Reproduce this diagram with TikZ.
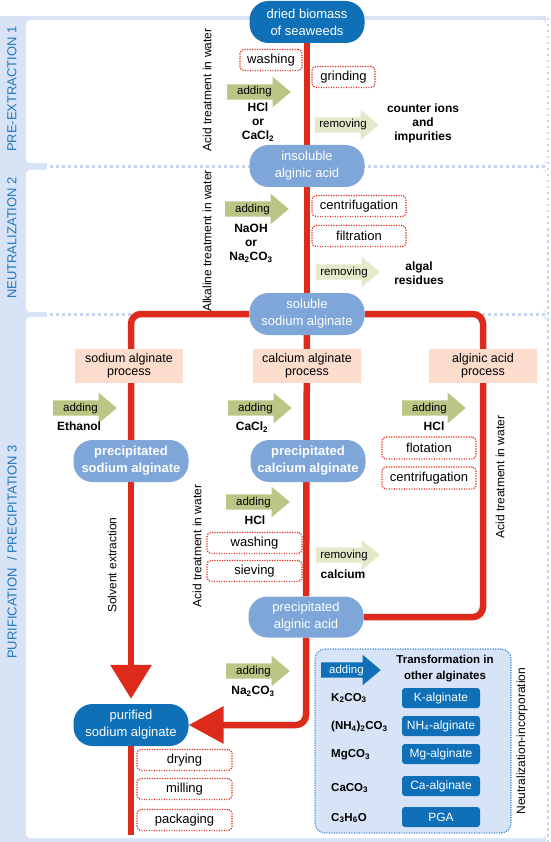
\documentclass[tikz,border=0pt]{standalone}
\usepackage{fontspec}
\setmainfont{Liberation Sans}
\usetikzlibrary{shapes.arrows,arrows.meta}
\definecolor{darkblue}{RGB}{15,112,183}
\definecolor{lightnode}{RGB}{126,166,216}
\definecolor{flowred}{RGB}{221,42,27}
\definecolor{addgreen}{RGB}{186,198,133}
\definecolor{remgreen}{RGB}{228,233,202}
\definecolor{pinkbox}{RGB}{252,220,204}
\definecolor{bandblue}{RGB}{216,227,245}
\definecolor{sepblue}{RGB}{197,212,238}
\definecolor{stageblue}{RGB}{31,120,193}
\definecolor{tboxfill}{RGB}{215,227,246}
\definecolor{tboxline}{RGB}{63,143,210}
\newcommand{\sbs}[1]{\textsubscript{#1}}
\pgfdeclarelayer{back}
\pgfdeclarelayer{flow}
\pgfsetlayers{back,flow,main}
\begin{document}
\begin{tikzpicture}[x=1pt,y=-1pt,
	dark_node/.style={rounded corners=19pt,fill=darkblue,text=white,minimum width=115pt,minimum height=42pt,align=center,font=\fontsize{13}{17}\selectfont},
	light_node/.style={dark_node,fill=lightnode},
	proc_node/.style={fill=pinkbox,minimum width=108pt,minimum height=34pt,inner sep=0pt,align=center,font=\fontsize{12.5}{13.5}\selectfont},
	op_node/.style={draw=flowred,fill=white,dash pattern=on 1.2pt off 1.3pt,line width=1.2pt,rounded corners=4pt,minimum width=94pt,minimum height=21pt,inner sep=0pt,font=\fontsize{13}{15}\selectfont},
	add_node/.style={single arrow,fill=addgreen,single arrow head extend=7.5pt,single arrow tip angle=80,text width=46pt,align=center,inner xsep=4pt,inner ysep=2.5pt,text height=8pt,text depth=2pt,anchor=tail,font=\fontsize{11.5}{13}\selectfont},
	rem_node/.style={add_node,fill=remgreen},
	chem_node/.style={align=center,inner sep=0pt,font=\bfseries\fontsize{12}{14}\selectfont},
	note_node/.style={rotate=90,inner sep=0pt,font=\fontsize{12}{14}\selectfont},
	stage_node/.style={rotate=90,inner sep=0pt,text=stageblue,font=\fontsize{13}{15}\selectfont},
	salt_node/.style={fill=darkblue,text=white,rounded corners=3pt,minimum width=78pt,minimum height=20pt,inner sep=0pt,font=\fontsize{12}{14}\selectfont},
	trans_box/.style={draw=tboxline,fill=tboxfill,rounded corners=10pt,dash pattern=on 1.2pt off 1.3pt,line width=1.2pt,minimum width=196pt,minimum height=184pt},
	flow_line/.style={draw=flowred,line width=6.5pt},
	sep_line/.style={draw=sepblue,line width=2.5pt,dash pattern=on 2.5pt off 3.5pt}]

	\useasboundingbox (0,0) rectangle (550,842);

	\begin{pgfonlayer}{back}
		\fill[bandblue] (0,16) rectangle (546,842);
		\fill[white,rounded corners=4pt] (26,20) rectangle (546,163);
		\fill[white,rounded corners=4pt] (26,170) rectangle (546,312);
		\fill[white,rounded corners=4pt] (26,317) rectangle (546,838);
		\fill[white] (47,163) rectangle (546,170);
		\fill[white] (47,312) rectangle (546,317);
		\draw[sep_line] (50,166.5) -- (546,166.5);
		\draw[sep_line] (50,314.5) -- (546,314.5);
		\draw[sep_line] (548,18) -- (548,842);
	\end{pgfonlayer}

	\node[stage_node] (s1) at (12,89) {PRE-EXTRACTION 1};
	\node[stage_node] (s2) at (12,238) {NEUTRALIZATION 2};
	\node[stage_node] (s3) at (12,552) {PURIFICATION \ / PRECIPITATION 3};

	\node[dark_node] (biomass) at (307,22) {dried biomass\\of seaweeds};
	\node[light_node] (insoluble) at (307,166) {insoluble\\alginic acid};
	\node[light_node] (soluble) at (307,314) {soluble\\sodium alginate};
	\node[light_node,font=\bfseries\fontsize{13}{17}\selectfont] (psodium) at (131,461) {precipitated\\sodium alginate};
	\node[light_node,font=\bfseries\fontsize{13}{17}\selectfont] (pcalcium) at (308,461) {precipitated\\calcium alginate};
	\node[light_node,minimum height=41pt] (palginic) at (306,617) {precipitated\\alginic acid};
	\node[dark_node] (purified) at (131,725) {purified\\sodium alginate};
	\coordinate (pend) at (131,835);

	% pre-extraction
	\node[note_node] (acid1) at (207,90) {Acid treatment in water};
	\node[op_node,minimum width=62pt] (wash1) at (271,60) {washing};
	\node[op_node,minimum width=63pt] (grind) at (343.5,77) {grinding};
	\node[add_node] (add1) at (227,92) {adding};
	\node[chem_node] (hcl1) at (258,122) {HCl\\or\\CaCl\sbs{2}};
	\node[rem_node] (rem1) at (315,125) {removing};
	\node[chem_node] (ions) at (423,123) {counter ions\\and\\impurities};

	% neutralization
	\node[note_node] (alk) at (207,241) {Alkaline treatment in water};
	\node[add_node] (add2) at (225,209) {adding};
	\node[chem_node] (naoh) at (251,243) {NaOH\\or\\Na\sbs{2}CO\sbs{3}};
	\node[op_node] (centr1) at (359,206) {centrifugation};
	\node[op_node] (filt) at (359,236) {filtration};
	\node[rem_node] (rem2) at (316,272) {removing};
	\node[chem_node] (algal) at (419,273.5) {algal\\residues};

	% purification / precipitation
	\node[proc_node] (sproc) at (129,366) {sodium alginate\\process};
	\node[proc_node] (cproc) at (307,366) {calcium alginate\\process};
	\node[proc_node] (aproc) at (483,366) {alginic acid\\process};
	\node[add_node] (add3) at (53,408) {adding};
	\node[add_node] (add4) at (228,408) {adding};
	\node[add_node] (add5) at (402,408) {adding};
	\node[chem_node] (ethanol) at (79,426) {Ethanol};
	\node[chem_node] (cacl) at (252,427) {CaCl\sbs{2}};
	\node[chem_node] (hcl2) at (434,426) {HCl};
	\node[op_node,minimum height=22pt] (flot) at (429,448) {flotation};
	\node[op_node,minimum height=22pt] (centr2) at (429,478) {centrifugation};
	\node[note_node] (acid3) at (500,477) {Acid treatment in water};
	\node[note_node] (solv) at (112,565) {Solvent extraction};
	\node[note_node] (acid2) at (197,546) {Acid treatment in water};
	\node[add_node] (add6) at (226,502) {adding};
	\node[chem_node] (hcl3) at (255,520) {HCl};
	\node[op_node,minimum width=95pt] (wash2) at (254.5,543) {washing};
	\node[op_node,minimum width=95pt] (siev) at (254.5,571) {sieving};
	\node[rem_node] (rem3) at (316,555) {removing};
	\node[chem_node] (calc) at (343,574) {calcium};
	\node[add_node] (add7) at (226,671) {adding};
	\node[chem_node] (naco) at (253,691) {Na\sbs{2}CO\sbs{3}};
	\node[op_node,minimum width=95pt] (dry) at (184.5,760) {drying};
	\node[op_node,minimum width=95pt] (mill) at (184.5,789) {milling};
	\node[op_node,minimum width=95pt] (pack) at (184.5,820) {packaging};

	% other alginates
	\node[trans_box] (trans) at (413,741) {};
	\node[add_node,fill=darkblue,text=white,text width=42pt] (add8) at (321,670) {adding};
	\node[chem_node,font=\bfseries\fontsize{11.5}{16}\selectfont] (ttitle) at (445,669) {Transformation in\\other alginates};
	\node[chem_node,anchor=west,font=\bfseries\fontsize{11.5}{14}\selectfont] (k) at (331,698) {K\sbs{2}CO\sbs{3}};
	\node[chem_node,anchor=west,font=\bfseries\fontsize{11.5}{14}\selectfont] (nh) at (331,727) {(NH\sbs{4})\sbs{2}CO\sbs{3}};
	\node[chem_node,anchor=west,font=\bfseries\fontsize{11.5}{14}\selectfont] (mg) at (331,755) {MgCO\sbs{3}};
	\node[chem_node,anchor=west,font=\bfseries\fontsize{11.5}{14}\selectfont] (ca) at (331,788) {CaCO\sbs{3}};
	\node[chem_node,anchor=west,font=\bfseries\fontsize{11.5}{14}\selectfont] (pga) at (331,818) {C\sbs{3}H\sbs{6}O};
	\node[salt_node] (kalg) at (441,698) {K-alginate};
	\node[salt_node] (nhalg) at (441,726) {NH\sbs{4}-alginate};
	\node[salt_node] (mgalg) at (441,754) {Mg-alginate};
	\node[salt_node] (caalg) at (441,786) {Ca-alginate};
	\node[salt_node] (pgabox) at (441,817) {PGA};
	\node[note_node] (neut) at (522,741) {Neutralization-incorporation};

	\begin{pgfonlayer}{flow}
		\draw[flow_line] (biomass) -- (insoluble);
		\draw[flow_line] (insoluble) -- (soluble);
		\draw[flow_line] (soluble) -- (palginic);
		\draw[flow_line,rounded corners=10pt] (soluble.west) -| (psodium.north);
		\draw[flow_line,rounded corners=10pt] (soluble.east) -| (aproc.center) |- (palginic.east);
		\draw[flow_line,-{Triangle[length=34pt,width=40pt]},shorten >=5pt] (psodium) -- (purified);
		\draw[flow_line,-{Triangle[length=35pt,width=36pt]},rounded corners=10pt] (palginic.south) |- (purified.east);
		\draw[flow_line] (purified) -- (pend);
	\end{pgfonlayer}
\end{tikzpicture}
\end{document}
